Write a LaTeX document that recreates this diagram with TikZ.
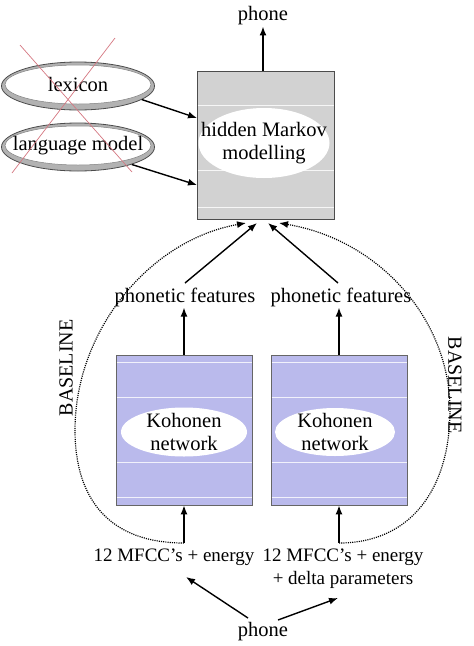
\documentclass[tikz,border=0pt]{standalone}
\usepackage{fontspec}
\setmainfont{Liberation Serif}
\usetikzlibrary{shapes.geometric,arrows.meta}
\definecolor{hmmgray}{RGB}{210,210,210}
\definecolor{kohblue}{RGB}{186,186,236}
\definecolor{crossred}{RGB}{214,120,130}
\tikzset{
  txt/.style={font=\fontsize{20.5}{23}\selectfont, inner sep=1pt, align=center},
  mtxt/.style={font=\fontsize{19}{23}\selectfont, inner sep=1pt, align=center},
  arr/.style={line width=1.4pt, -{Latex[length=9pt,width=7pt]}},
  dotarr/.style={line width=1.2pt, dash pattern=on 1.1pt off 1.1pt, -{Latex[length=9pt,width=7pt]}},
  hmmbox/.style={draw=black!70, line width=0.8pt, fill=hmmgray, minimum width=137pt, minimum height=148pt, inner sep=0pt},
  kohbox/.style={draw=black!60, line width=0.8pt, fill=kohblue, minimum width=136pt, minimum height=150pt, inner sep=0pt},
  inell/.style={ellipse, fill=white, inner sep=0pt},
  outell/.style={ellipse, draw=black!70, line width=0.8pt, fill=black!30, minimum width=153pt, minimum height=48pt, inner sep=0pt},
  whiteell/.style={ellipse, draw=black!50, line width=0.5pt, fill=white, minimum width=146pt, minimum height=39pt, inner sep=0pt},
  gridline/.style={white, line width=0.8pt, opacity=0.8},
  basel/.style={font=\fontsize{20}{23}\selectfont, inner sep=0pt}
}
\begin{document}
\begin{tikzpicture}[x=1pt,y=-1pt]
\useasboundingbox (0,0) rectangle (474,646);
\fill[white] (0,0) rectangle (474,646);

% HMM box
\node[hmmbox] (hmm) at (265.5,145) {};
\foreach \yy in {105,170,207} \draw[gridline] (197.5,\yy) -- (333.5,\yy);
\node[inell, minimum width=131pt, minimum height=70pt] (hmmell) at (264,143) {};
\node[txt] (hmmtxt) at (hmmell) {hidden Markov\\modelling};

% top phone
\node[txt] (phonetop) at (263,16) {phone};
\draw[arr] (hmm.north -| phonetop) -- (phonetop.south);

% lexicon and language model
\node[outell] (lexo) at (78,86) {};
\node[whiteell] (lexe) at (78,84.5) {};
\node[txt] (lex) at (lexe) {lexicon};
\node[outell] (lmo) at (78,147) {};
\node[whiteell] (lme) at (78,145.5) {};
\node[txt] (lm) at (lme) {language model};
\coordinate (hmmL1) at (197,118);
\coordinate (hmmL2) at (197,185);
\draw[arr] (lexo.-12) -- (hmmL1);
\draw[arr] (lmo.-18) -- (hmmL2);

% red cross
\draw[crossred, line width=0.7pt] (20,45) -- (132,172);
\draw[crossred, line width=0.7pt] (115,38) -- (12,173);

% Kohonen boxes
\node[kohbox] (koh1) at (184,430) {};
\node[kohbox] (koh2) at (339,430) {};
\foreach \yy in {362,397,462,497} {
  \draw[gridline] (116.5,\yy) -- (251.5,\yy);
  \draw[gridline] (271.5,\yy) -- (406.5,\yy);
}
\node[inell, minimum width=126pt, minimum height=49pt] (k1ell) at (184,432) {};
\node[txt] (k1txt) at (k1ell) {Kohonen\\network};
\node[inell, minimum width=120pt, minimum height=48pt] (k2ell) at (335,432) {};
\node[txt] (k2txt) at (k2ell) {Kohonen\\network};

% phonetic features
\node[txt] (pf1) at (185,297) {phonetic features};
\node[txt] (pf2) at (341,297) {phonetic features};
\draw[arr] (koh1.north) -- (koh1.north |- pf1.south);
\draw[arr] (koh2.north) -- (koh2.north |- pf2.south);
\coordinate (hmmB1) at (257,223);
\coordinate (hmmB2) at (268,223);
\coordinate (hmmB0) at (246,223);
\coordinate (hmmB3) at (279,223);
\draw[arr] (185,283) -- (hmmB1);
\draw[arr] (338,283) -- (hmmB2);

% MFCC
\node[mtxt] (mf1) at (174,557) {12 MFCC’s + energy};
\node[mtxt] (mf2) at (343,569) {12 MFCC’s + energy\\+ delta parameters};
\coordinate (mf1top) at (184,543);
\coordinate (mf2top) at (339,543);
\draw[arr] (mf1top) -- (koh1.south);
\draw[arr] (mf2top) -- (koh2.south -| mf2top);

% bottom phone
\node[txt] (phonebot) at (263,632) {phone};
\draw[arr] (248,618) -- (186,577);
\draw[arr] (278,620) -- (338,598);

% dotted baseline curves
\draw[dotarr] (mf1top) .. controls (110,543) and (75,500) .. (75,430)
  .. controls (75,330) and (150,240) .. (hmmB0);
\draw[dotarr] (mf2top) .. controls (410,543) and (450,490) .. (450,410)
  .. controls (450,320) and (380,240) .. (hmmB3);

% BASELINE labels
\node[basel, rotate=90] (base1) at (66,368) {BASELINE};
\node[basel, rotate=-90] (base2) at (455,385) {BASELINE};
\end{tikzpicture}
\end{document}
